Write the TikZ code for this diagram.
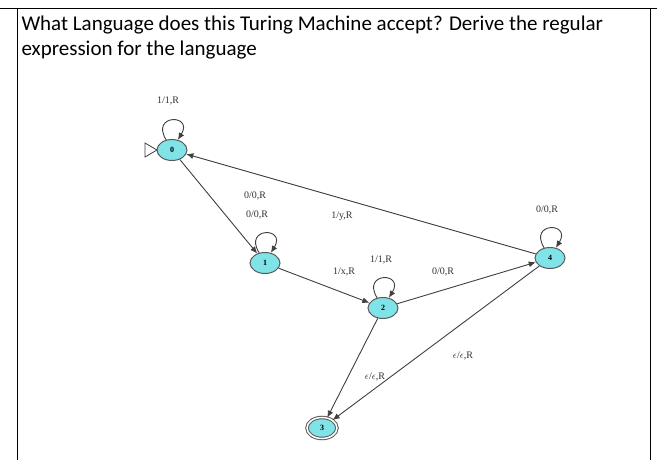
\documentclass[tikz,border=0pt]{standalone}
\usepackage{fontspec}
\setmainfont{Liberation Serif}
\newfontfamily\hdr{Carlito}
\usetikzlibrary{shapes.geometric,arrows.meta}
\definecolor{nodec}{HTML}{7FE3E8}
\begin{document}
\begin{tikzpicture}[x=1pt,y=-1pt,
  st/.style={ellipse,draw=gray!70!black,fill=nodec,line width=1pt,minimum width=30pt,minimum height=21pt,inner sep=0pt,font=\bfseries\footnotesize},
  ed/.style={-{Latex[length=7pt,width=6pt]},gray!50!black,line width=0.9pt},
  lb/.style={font=\fontsize{10}{12}\selectfont,text=gray!40!black}]
\useasboundingbox (0,0) rectangle (657,460);
\fill[white] (0,0) rectangle (657,460);
\draw[line width=1pt] (0,9) -- (657,9);
\draw[line width=0.8pt] (17,9) -- (17,460) (650,9) -- (650,460);
\node[font=\hdr\fontsize{21}{24}\selectfont,anchor=west] (t1) at (18,25) {What Language does this Turing Machine accept? Derive the regular};
\node[font=\hdr\fontsize{21}{24}\selectfont,anchor=west] (t2) at (18,50) {expression for the language};
\node[st] (s0) at (172,150) {0};
\node[st] (s1) at (265,263) {1};
\node[st] (s2) at (383,308) {2};
\node[st] (s4) at (550,258) {4};
\node[st,double,double distance=1.5pt] (s3) at (322,428) {3};
\coordinate (i0) at (157,150);
\draw[gray!50!black,line width=0.8pt] (i0) -- ++(-12,-7) -- ++(0,14) -- cycle;
\draw[ed] (s0) -- (s1);
\draw[ed] (s4) -- (s0);
\draw[ed] (s1) -- (s2);
\draw[ed] (s2) -- (s4);
\draw[ed] (s2) -- (s3);
\draw[ed] (s4) -- (s3);
\foreach \s in {s0,s1,s2,s4}{\draw[ed] (\s.120) .. controls +(-16,-26) and +(16,-26) .. (\s.60);}
\node[lb] (l01) at (168,101) {1/1,R};
\node[lb] (l1a) at (255,196) {0/0,R};
\node[lb] (l1b) at (257,215) {0/0,R};
\node[lb] (l40) at (342,216) {1/y,R};
\node[lb] (l44) at (547,210) {0/0,R};
\node[lb] (l22) at (381,260) {1/1,R};
\node[lb] (l12) at (344,272) {1/x,R};
\node[lb] (l24) at (443,272) {0/0,R};
\node[lb] (l43) at (463,356) {$\epsilon$/$\epsilon$,R};
\node[lb] (l23) at (375,377) {$\epsilon$/$\epsilon$,R};
\end{tikzpicture}
\end{document}
